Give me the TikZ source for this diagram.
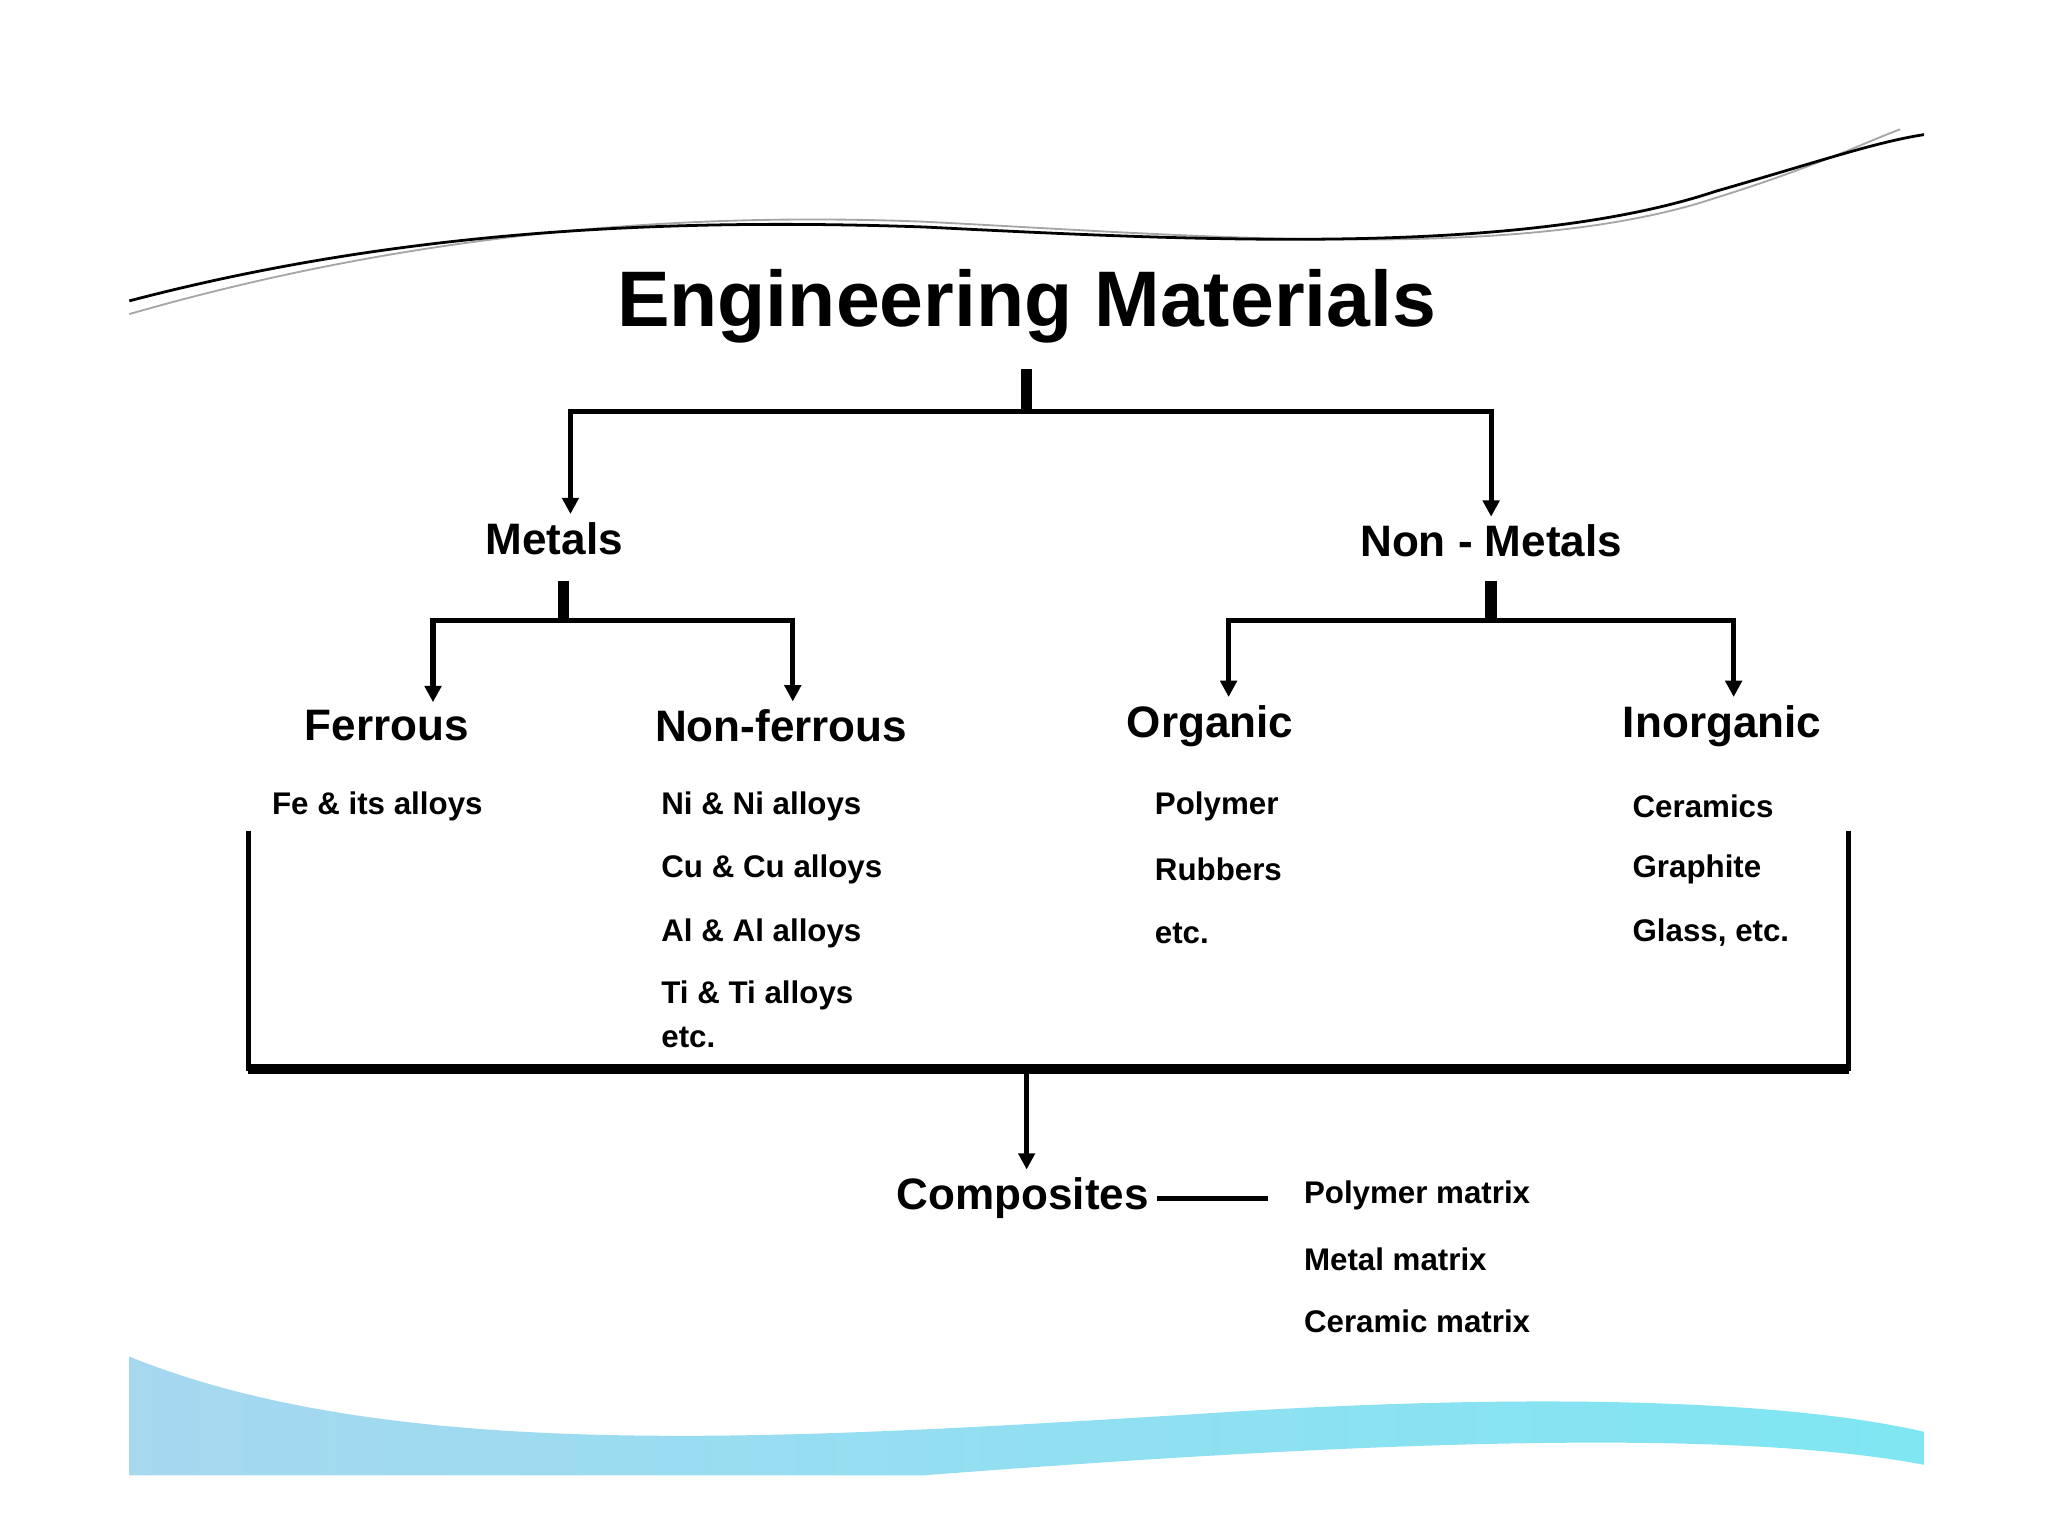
\documentclass[tikz,border=0pt]{standalone}
\usepackage{fontspec}
\setmainfont{Liberation Sans}
\usetikzlibrary{arrows.meta}
\definecolor{waveL}{HTML}{A6D8F0}
\definecolor{waveR}{HTML}{7FE6F2}
\begin{document}
\begin{tikzpicture}[x=0.02cm,y=-0.02cm,>={Triangle[length=7pt,width=7pt]},
  link/.style={line width=2.2pt},
  stub/.style={line width=5pt},
  title node/.style={font=\fontsize{34}{40}\selectfont\bfseries},
  main node/.style={font=\fontsize{19}{23}\selectfont\bfseries},
  item node/.style={font=\fontsize{13.5}{16}\selectfont\bfseries,anchor=west}]

  \useasboundingbox (0,0) rectangle (1552,1164);
  % background swooshes
  \draw[gray!70,line width=0.8pt] (98,238) .. controls (300,180) and (500,160) .. (700,168) .. controls (900,178) and (1150,200) .. (1300,150) .. controls (1380,125) and (1420,105) .. (1440,98);
  \draw[black,line width=1.2pt] (98,228) .. controls (300,175) and (500,165) .. (700,172) .. controls (900,182) and (1150,195) .. (1300,145) .. controls (1380,122) and (1420,108) .. (1458,102);
  \shade[left color=waveL,right color=waveR] (98,1028) .. controls (300,1110) and (600,1090) .. (900,1072) .. controls (1150,1055) and (1350,1060) .. (1458,1085) -- (1458,1110) .. controls (1300,1080) and (1000,1095) .. (700,1118) -- (98,1118) -- cycle;

  \node[title node] (em) at (778,232) {Engineering Materials};
  \node[main node] (met) at (420,408) {Metals};
  \node[main node] (nmet) at (1130,410) {Non - Metals};
  \node[main node] (fer) at (293,550) {Ferrous};
  \node[main node] (nfer) at (592,550) {Non-ferrous};
  \node[main node] (org) at (917,550) {Organic};
  \node[main node] (inorg) at (1305,550) {Inorganic};
  \node[main node] (comp) at (775,908) {Composites};

  \node[item node] (fe) at (200,611) {Fe \& its alloys};
  \node[item node] (ni) at (495,611) {Ni \& Ni alloys};
  \node[item node] (cu) at (495,659) {Cu \& Cu alloys};
  \node[item node] (al) at (495,707) {Al \& Al alloys};
  \node[item node] (ti) at (495,754) {Ti \& Ti alloys};
  \node[item node] (etc1) at (495,786) {etc.};
  \node[item node] (poly) at (869,611) {Polymer};
  \node[item node] (rub) at (869,659) {Rubbers};
  \node[item node] (etc2) at (869,707) {etc.};
  \node[item node] (cer) at (1231,611) {Ceramics};
  \node[item node] (gra) at (1231,659) {Graphite};
  \node[item node] (gla) at (1231,707) {Glass, etc.};
  \node[item node] (pm) at (982,906) {Polymer matrix};
  \node[item node] (mm) at (982,954) {Metal matrix};
  \node[item node] (cm) at (982,1001) {Ceramic matrix};

  \coordinate (t0) at (778,280); \coordinate (t1) at (778,312);
  \coordinate (m0) at (427,440); \coordinate (m1) at (427,470);
  \coordinate (n0) at (1130,440); \coordinate (n1) at (1130,470);
  \coordinate (bl) at (188,630); \coordinate (br) at (1401,630);
  \coordinate (bm) at (778,810);

  \draw[stub] (t0) -- (t1);
  \draw[link,->] (t1) -| ([xshift=7]met.north);
  \draw[link,->] (t1) -| (nmet.north);
  \draw[stub] (m0) -- (m1);
  \draw[link,->] (m1) -| ([xshift=20]fer.north);
  \draw[link,->] (m1) -| ([xshift=5]nfer.north);
  \draw[stub] (n0) -- (n1);
  \draw[link,->] (n1) -| ([xshift=8]org.north);
  \draw[link,->] (n1) -| ([xshift=5]inorg.north);
  \draw[link] (bl) |- (bm) -| (br);
  \draw[line width=4pt] (bl |- bm) -- (br |- bm);
  \draw[link,->] (bm) -- (bm |- comp.north);
  \draw[link] (comp.east) -- ([xshift=-12]pm.west |- comp.east);
\end{tikzpicture}
\end{document}
